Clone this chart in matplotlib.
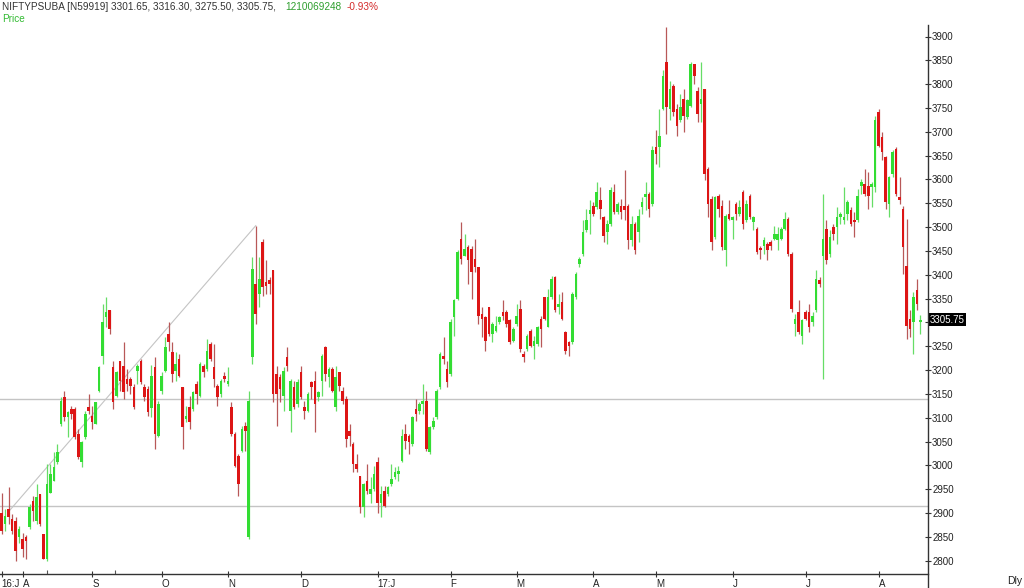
import matplotlib
matplotlib.use('Agg')
import matplotlib.pyplot as plt
from matplotlib import font_manager as fm
from matplotlib.lines import Line2D
from matplotlib.transforms import blended_transform_factory
import numpy as np

# ---------------- data ----------------
opens = [2901, 2877, 2908, 2887, 2884, 2850, 2845, 2849, 2870, 2926,
         2884, 2940, 2856, 2803, 2943, 2968, 3006, 3087, 3143, 3101,
         3118, 3118, 3066, 3006, 3059, 3122, 3104, 3087, 3157, 3230,
         3311, 3325, 3206, 3146, 3220, 3209, 3181, 3181, 3164, 3199,
         3220, 3164, 3160, 3120, 3206, 3062, 3157, 3199, 3276, 3237,
         3199, 3223, 3164, 3097, 3122, 3118, 3171, 3146, 3209, 3202,
         3255, 3206, 3167, 3150, 3188, 3171, 3122, 3066, 3020, 3031,
         3083, 2850, 3227, 3381, 3360, 3468, 3384, 3388, 3409, 3192,
         3185, 3146, 3227, 3115, 3164, 3129, 3195, 3122, 3115, 3174,
         3178, 3143, 3178, 3248, 3185, 3202, 3122, 3195, 3157, 3139,
         3073, 3045, 3003, 2978, 2912, 2968, 2940, 2950, 3006, 2922,
         2947, 2940, 2961, 2975, 2982, 3010, 3066, 3062, 3045, 3118,
         3115, 3129, 3136, 3027, 3080, 3101, 3164, 3230, 3202, 3192,
         3311, 3349, 3475, 3440, 3458, 3454, 3433, 3416, 3318, 3311,
         3332, 3276, 3283, 3300, 3321, 3321, 3304, 3262, 3297, 3328,
         3234, 3244, 3283, 3251, 3255, 3307, 3353, 3290, 3353, 3395,
         3332, 3342, 3279, 3258, 3258, 3353, 3423, 3444, 3493, 3528,
         3545, 3542, 3556, 3521, 3489, 3507, 3573, 3531, 3545, 3545,
         3545, 3472, 3507, 3489, 3542, 3563, 3570, 3549, 3668, 3668,
         3748, 3846, 3748, 3797, 3748, 3724, 3769, 3731, 3755, 3843,
         3786, 3759, 3790, 3622, 3559, 3479, 3566, 3545, 3451, 3528,
         3514, 3549, 3528, 3573, 3514, 3566, 3510, 3496, 3457, 3461,
         3465, 3468, 3475, 3472, 3475, 3496, 3517, 3444, 3297, 3321,
         3272, 3321, 3321, 3300, 3325, 3388, 3440, 3496, 3444, 3500,
         3500, 3521, 3514, 3528, 3535, 3514, 3514, 3587, 3591, 3587,
         3584, 3584, 3741, 3689, 3647, 3549, 3612, 3664, 3563, 3538,
         3419, 3307, 3300, 3367, 3301.65]

highs = [2943, 2908, 2954, 2898, 2891, 2873, 2859, 2853, 2919, 2936,
         2961, 2940, 2856, 3003, 3003, 3027, 3045, 3143, 3157, 3115,
         3125, 3122, 3076, 3052, 3115, 3150, 3125, 3132, 3209, 3339,
         3353, 3325, 3220, 3199, 3220, 3258, 3202, 3185, 3171, 3213,
         3223, 3171, 3167, 3210, 3227, 3136, 3195, 3269, 3300, 3258,
         3237, 3234, 3164, 3125, 3146, 3157, 3178, 3216, 3213, 3265,
         3258, 3255, 3171, 3181, 3195, 3206, 3132, 3069, 3024, 3083,
         3090, 3157, 3437, 3503, 3437, 3475, 3430, 3395, 3409, 3209,
         3192, 3206, 3248, 3181, 3178, 3181, 3209, 3136, 3153, 3178,
         3199, 3157, 3234, 3251, 3206, 3206, 3209, 3195, 3164, 3146,
         3087, 3048, 3024, 2978, 2964, 3003, 2975, 2999, 3017, 2957,
         2957, 2957, 3003, 2996, 2999, 3076, 3087, 3066, 3104, 3139,
         3132, 3171, 3157, 3083, 3101, 3160, 3237, 3269, 3220, 3307,
         3349, 3451, 3510, 3486, 3462, 3461, 3475, 3416, 3332, 3314,
         3332, 3300, 3314, 3314, 3346, 3325, 3307, 3290, 3339, 3346,
         3241, 3276, 3286, 3272, 3293, 3314, 3353, 3370, 3398, 3398,
         3360, 3363, 3283, 3262, 3363, 3405, 3437, 3514, 3538, 3556,
         3552, 3594, 3584, 3524, 3514, 3584, 3591, 3552, 3559, 3619,
         3549, 3524, 3510, 3538, 3563, 3594, 3573, 3671, 3703, 3748,
         3829, 3920, 3807, 3801, 3758, 3780, 3790, 3769, 3846, 3843,
         3794, 3846, 3790, 3626, 3566, 3566, 3570, 3556, 3528, 3556,
         3524, 3552, 3556, 3577, 3556, 3570, 3524, 3500, 3461, 3479,
         3468, 3472, 3503, 3500, 3500, 3531, 3521, 3447, 3318, 3346,
         3307, 3325, 3339, 3321, 3409, 3395, 3570, 3514, 3493, 3507,
         3542, 3531, 3584, 3556, 3542, 3531, 3580, 3601, 3622, 3615,
         3594, 3734, 3748, 3699, 3650, 3608, 3661, 3668, 3605, 3545,
         3517, 3325, 3363, 3391, 3316.30]

lows = [2856, 2863, 2877, 2856, 2800, 2838, 2807, 2803, 2866, 2884,
        2877, 2873, 2803, 2800, 2943, 2968, 3003, 3083, 3094, 3059,
        3097, 3055, 3013, 2996, 3055, 3108, 3076, 3087, 3153, 3213,
        3290, 3276, 3118, 3143, 3157, 3139, 3157, 3150, 3118, 3171,
        3171, 3136, 3104, 3101, 3034, 3059, 3150, 3195, 3241, 3174,
        3178, 3185, 3034, 3090, 3076, 3115, 3129, 3143, 3185, 3199,
        3220, 3164, 3125, 3143, 3174, 3167, 3062, 2996, 2936, 3027,
        3031, 2846, 3213, 3297, 3332, 3356, 3360, 3360, 3132, 3083,
        3132, 3115, 3199, 3069, 3118, 3122, 3139, 3097, 3111, 3139,
        3069, 3136, 3146, 3178, 3164, 3153, 3115, 3157, 3129, 3038,
        3041, 2985, 2985, 2901, 2891, 2940, 2922, 2947, 2901, 2891,
        2912, 2936, 2957, 2971, 2968, 3006, 3034, 3024, 3041, 3094,
        3108, 3108, 3031, 3024, 3076, 3097, 3160, 3213, 3164, 3188,
        3272, 3346, 3423, 3440, 3381, 3349, 3405, 3297, 3269, 3241,
        3272, 3258, 3279, 3297, 3304, 3290, 3255, 3258, 3293, 3237,
        3216, 3241, 3248, 3223, 3251, 3248, 3304, 3290, 3349, 3321,
        3318, 3304, 3234, 3230, 3255, 3349, 3416, 3440, 3489, 3486,
        3524, 3538, 3517, 3468, 3465, 3503, 3528, 3528, 3517, 3514,
        3454, 3461, 3444, 3468, 3528, 3535, 3521, 3545, 3633, 3626,
        3745, 3696, 3724, 3734, 3692, 3720, 3699, 3727, 3752, 3801,
        3720, 3720, 3598, 3521, 3451, 3475, 3521, 3451, 3419, 3514,
        3475, 3514, 3524, 3496, 3510, 3517, 3493, 3444, 3433, 3444,
        3430, 3451, 3472, 3451, 3472, 3493, 3440, 3321, 3272, 3276,
        3255, 3304, 3279, 3293, 3321, 3374, 3181, 3423, 3437, 3472,
        3465, 3507, 3507, 3514, 3503, 3479, 3510, 3570, 3566, 3538,
        3542, 3573, 3668, 3640, 3538, 3521, 3605, 3566, 3549, 3402,
        3265, 3269, 3234, 3325, 3275.50]

closes = [2863, 2894, 2891, 2863, 2821, 2866, 2824, 2842, 2912, 2905,
          2933, 2877, 2803, 2961, 2982, 2996, 3027, 3136, 3101, 3111,
          3108, 3059, 3017, 3048, 3108, 3115, 3090, 3132, 3206, 3300,
          3321, 3286, 3132, 3195, 3178, 3153, 3171, 3167, 3122, 3209,
          3174, 3143, 3111, 3188, 3066, 3129, 3188, 3248, 3258, 3192,
          3213, 3188, 3080, 3104, 3090, 3153, 3150, 3213, 3195, 3241,
          3223, 3181, 3143, 3178, 3181, 3178, 3066, 2999, 2961, 3076,
          3073, 3136, 3412, 3318, 3391, 3374, 3377, 3381, 3150, 3150,
          3160, 3199, 3209, 3178, 3122, 3174, 3143, 3115, 3150, 3164,
          3129, 3153, 3230, 3192, 3202, 3157, 3185, 3167, 3136, 3055,
          3062, 3003, 2992, 2912, 2961, 2947, 2950, 2982, 2922, 2940,
          2915, 2954, 2971, 2985, 2989, 3062, 3052, 3048, 3101, 3108,
          3129, 3136, 3034, 3080, 3094, 3157, 3234, 3223, 3174, 3300,
          3346, 3447, 3433, 3454, 3432, 3405, 3416, 3314, 3307, 3262,
          3276, 3297, 3293, 3311, 3314, 3297, 3258, 3286, 3314, 3244,
          3227, 3272, 3251, 3262, 3290, 3286, 3307, 3353, 3391, 3325,
          3339, 3307, 3241, 3251, 3360, 3402, 3433, 3489, 3514, 3535,
          3528, 3573, 3538, 3482, 3507, 3577, 3531, 3549, 3531, 3535,
          3472, 3507, 3451, 3524, 3552, 3570, 3538, 3661, 3654, 3692,
          3818, 3752, 3790, 3741, 3713, 3752, 3734, 3766, 3843, 3818,
          3738, 3769, 3612, 3549, 3468, 3563, 3538, 3458, 3524, 3517,
          3521, 3528, 3542, 3507, 3549, 3521, 3521, 3447, 3451, 3472,
          3451, 3461, 3486, 3486, 3496, 3517, 3444, 3328, 3307, 3279,
          3304, 3307, 3290, 3314, 3391, 3381, 3475, 3430, 3479, 3486,
          3521, 3528, 3521, 3552, 3507, 3510, 3566, 3594, 3570, 3566,
          3591, 3724, 3671, 3657, 3552, 3605, 3657, 3570, 3556, 3458,
          3293, 3286, 3353, 3339, 3305.75]

month_labels = ['16:J', 'A', 'S', 'O', 'N', 'D', '17:J', 'F', 'M', 'A', 'M', 'J', 'J', 'A']
month_pos = [0, 6, 26, 46, 65, 86, 108, 129, 148, 170, 188, 210, 231, 252]
minor_pos = [13, 32.6]
y_ticks = list(range(2800, 3901, 50))
h_levels = [3140, 2914]
trend_x = [2, 73]
trend_y = [2903, 3503]

symbol = 'NIFTYPSUBA [N59919]'
last_ohlc = [3301.65, 3316.30, 3275.50, 3305.75]
volume_txt = '1210069248'
change_txt = '-0.93%'

# ---------------- style ----------------
avail = {f.name for f in fm.fontManager.ttflist}
if 'Liberation Sans Narrow' in avail:
    FONT, FS = 'Liberation Sans Narrow', 8
else:
    FONT, FS = 'Liberation Sans', 7
plt.rcParams['font.family'] = [FONT, 'DejaVu Sans']

W, H = 1024, 588
fig = plt.figure(figsize=(W / 100, H / 100), dpi=100)
fig.patch.set_facecolor('white')

ax_left_px, ax_right_px, ax_top_px, ax_bot_px = 0, 928, 25, 574
ax = fig.add_axes([ax_left_px / W, (H - ax_bot_px) / H,
                   (ax_right_px - ax_left_px) / W, (ax_bot_px - ax_top_px) / H])

n = len(opens)
x = np.arange(n)
o = np.array(opens); h = np.array(highs); l = np.array(lows); c = np.array(closes)
up = c >= o

GREEN, RED = '#33dd33', '#dd1515'
GREEN_W, RED_W = '#66dd66', '#b85858'

ax.vlines(x[up], l[up], h[up], colors=GREEN_W, lw=0.9, zorder=2)
ax.vlines(x[~up], l[~up], h[~up], colors=RED_W, lw=0.9, zorder=2)
body_b = np.minimum(o, c)
body_h = np.maximum(np.abs(c - o), 2.5)
ax.bar(x[up], body_h[up], bottom=body_b[up], width=0.74, color=GREEN, lw=0, zorder=3)
ax.bar(x[~up], body_h[~up], bottom=body_b[~up], width=0.74, color=RED, lw=0, zorder=3)

for lv in h_levels:
    ax.axhline(lv, color='#c4c4c4', lw=1.0, zorder=1)
ax.plot(trend_x, trend_y, color='#c4c4c4', lw=0.8, zorder=1)

# scales
px_per_idx = 3.48
x0_px = 1.7
ax.set_xlim((ax_left_px - x0_px) / px_per_idx, (ax_right_px - x0_px) / px_per_idx)
ppu = 0.4765
y3900 = 36.5
ax.set_ylim(3900 - (ax_bot_px - y3900) / ppu, 3900 + (y3900 - ax_top_px) / ppu)

for s in ['left', 'top', 'right']:
    ax.spines[s].set_visible(False)
ax.spines['bottom'].set_color('#333333')
ax.spines['bottom'].set_linewidth(1.0)

last_close = last_ohlc[3]
ax.yaxis.tick_right()
ax.set_yticks(y_ticks)
# the tick label nearest the last price sits under the black price box in the reference
ax.set_yticklabels(['' if abs(v - last_close) < 25 else str(v) for v in y_ticks])
ax.tick_params(axis='y', direction='inout', length=4, width=0.8, pad=1,
               labelsize=FS, colors='#333333', labelcolor='#222222')
ax.set_xticks(month_pos)
ax.set_xticklabels(month_labels)
ax.set_xticks(minor_pos, minor=True)
ax.tick_params(axis='x', which='major', direction='inout', length=4, width=0.8,
               pad=1.5, labelsize=FS, colors='#333333', labelcolor='#222222')
ax.tick_params(axis='x', which='minor', direction='in', length=3, width=0.8, colors='#555555')
for lab in ax.get_xticklabels():
    lab.set_ha('left')

# right axis line extending to the bottom of the figure
fig.add_artist(Line2D([ax_right_px / W] * 2, [0, (H - ax_top_px) / H],
                      transform=fig.transFigure, color='#333333', lw=1.0))

# last price marker
tr = blended_transform_factory(ax.transAxes, ax.transData)
ax.text(1.0018, last_close, f'{last_close:.2f}', transform=tr, ha='left', va='center',
        color='white', fontsize=FS, zorder=10,
        bbox=dict(facecolor='black', edgecolor='none', pad=1.2), clip_on=False)

fig.text(1007 / W, 1 - 581 / H, 'Dly', ha='left', va='center', fontsize=FS + 0.5, color='#222222')

# header
fig.canvas.draw()
rend = fig.canvas.get_renderer()
hdr_y = 1 - 7 / H
main_txt = symbol + ' ' + ', '.join(f'{v:.2f}' for v in last_ohlc) + ','
t1 = fig.text(2 / W, hdr_y, main_txt, ha='left', va='center', fontsize=FS, color='#333333')
bb = t1.get_window_extent(rend)
# fit the header to the reference width (ends near x = 274 px)
hfs = FS * (272.0 / bb.x1)
t1.set_fontsize(hfs)
bb = t1.get_window_extent(rend)
t2 = fig.text((bb.x1 + 9) / W, hdr_y, volume_txt, ha='left', va='center', fontsize=hfs, color='#2e9e2e')
bb2 = t2.get_window_extent(rend)
fig.text((bb2.x1 + 5) / W, hdr_y, change_txt, ha='left', va='center', fontsize=hfs, color='#d42a2a')
fig.text(2 / W, 1 - 19 / H, 'Price', ha='left', va='center', fontsize=hfs, color='#33bb33')

fig.savefig('out.png', dpi=100, facecolor='white')
